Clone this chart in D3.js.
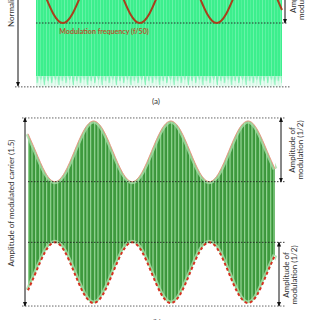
<!DOCTYPE html>
<html><head><meta charset="utf-8">
<script src="https://cdn.jsdelivr.net/npm/d3@7"></script>
<style>html,body{margin:0;padding:0;background:#fff;}svg{display:block;}</style>
</head><body>
<script>
// Time in modulation periods, and modulation envelope amplitude
const modTime = [0, 0.1, 0.225, 0.35, 0.475, 0.6, 0.725, 0.85, 0.975, 1.1, 1.225, 1.35, 1.475, 1.6, 1.725, 1.85, 1.975, 2.1, 2.225, 2.35, 2.475, 2.6, 2.725, 2.85, 2.975, 3.1, 3.2];
const modAmp  = [1.29, 1.0, 0.65, 0.5, 0.65, 1.0, 1.35, 1.5, 1.35, 1.0, 0.65, 0.5, 0.65, 1.0, 1.35, 1.5, 1.35, 1.0, 0.65, 0.5, 0.65, 1.0, 1.35, 1.5, 1.35, 1.0, 0.71];
// Reference levels
const topLevels = [0.5, -0.53];          // modulation minimum, baseline (panel a)
const carrierRange = [2.0, -0.36];       // carrier fill top / bottom (panel a)
const botLevels = [1.55, 0.5, -0.5, -1.55]; // dotted guide lines (panel b)
const labels = {
  yA: "Normalized amplitude",
  modA: ["Amplitude of", "modulation (1/2)"],
  freq: "Modulation frequency (f/50)",
  a: "(a)",
  yB: "Amplitude of modulated carrier (1.5)",
  b: "(b)"
};

const W = 320, H = 320;
const svg = d3.select("body").append("svg").attr("width", W).attr("height", H);
const defs = svg.append("defs");

function marker(id) {
  defs.append("marker").attr("id", id).attr("viewBox", "0 0 6 6").attr("refX", 5).attr("refY", 3)
    .attr("markerWidth", 5).attr("markerHeight", 5).attr("orient", "auto-start-reverse")
    .append("path").attr("d", "M0,0.5 L6,3 L0,5.5 Z").attr("fill", "#111");
}
marker("arr");

// patterns
const pA = defs.append("pattern").attr("id", "pa").attr("patternUnits", "userSpaceOnUse")
  .attr("width", 9).attr("height", 400);
pA.append("rect").attr("width", 9).attr("height", 400).attr("fill", "#3cef8d");
pA.append("rect").attr("x", 1).attr("width", 0.8).attr("height", 400).attr("fill", "#7ff5b8").attr("opacity", 0.8);
pA.append("rect").attr("x", 4.2).attr("width", 0.7).attr("height", 400).attr("fill", "#8af6c0").attr("opacity", 0.6);
pA.append("rect").attr("x", 7).attr("width", 0.6).attr("height", 400).attr("fill", "#6ff3ad").attr("opacity", 0.7);

const pS = defs.append("pattern").attr("id", "ps").attr("patternUnits", "userSpaceOnUse")
  .attr("width", 14.4).attr("height", 11).attr("y", 76);
pS.append("rect").attr("width", 14.4).attr("height", 11).attr("fill", "#e9fbf1");
[[0, 9], [3.6, 5], [7.2, 7], [10.8, 4]].forEach(([x0, h]) => {
  pS.append("path").attr("d", `M${x0},0 L${x0 + 2.6},0 L${x0 + 1.6},${h} L${x0 + 0.9},${h} Z`).attr("fill", "#53f09c");
  pS.append("path").attr("d", `M${x0 + 0.4},0 L${x0 + 2.4},0 L${x0 + 1.3},${11} Z`).attr("fill", "#9cf4c6").attr("opacity", 0.7);
});

const pB = defs.append("pattern").attr("id", "pb").attr("patternUnits", "userSpaceOnUse")
  .attr("width", 11).attr("height", 400);
pB.append("rect").attr("width", 11).attr("height", 400).attr("fill", "#47a447");
pB.append("rect").attr("x", 0.5).attr("width", 1.2).attr("height", 400).attr("fill", "#368f36");
pB.append("rect").attr("x", 2.2).attr("width", 0.9).attr("height", 400).attr("fill", "#a2dba2");
pB.append("rect").attr("x", 4.3).attr("width", 1.3).attr("height", 400).attr("fill", "#3a953a");
pB.append("rect").attr("x", 6.0).attr("width", 1.2).attr("height", 400).attr("fill", "#8ccf8c");
pB.append("rect").attr("x", 8.0).attr("width", 1.2).attr("height", 400).attr("fill", "#3a953a");
pB.append("rect").attr("x", 9.6).attr("width", 0.8).attr("height", 400).attr("fill", "#b3e2b3");

// ---------- Panel (a) ----------
const xA = d3.scaleLinear().domain([0, 3.2]).range([36, 282]);
const yA = d3.scaleLinear().domain([0.5, 1.5]).range([23, -39]);

svg.append("rect").attr("x", xA(0)).attr("width", xA(3.2) - xA(0))
  .attr("y", yA(carrierRange[0])).attr("height", yA(carrierRange[1]) - yA(carrierRange[0]))
  .attr("fill", "url(#pa)");
svg.append("rect").attr("x", xA(0)).attr("width", xA(3.2) - xA(0))
  .attr("y", yA(carrierRange[1])).attr("height", yA(topLevels[1]) - yA(carrierRange[1]))
  .attr("fill", "url(#ps)");

svg.append("line").attr("x1", 15).attr("x2", 290).attr("y1", yA(topLevels[1])).attr("y2", yA(topLevels[1]))
  .attr("stroke", "#555").attr("stroke-width", 1).attr("stroke-dasharray", "1.5,1.5");
svg.append("line").attr("x1", xA(0)).attr("x2", 287).attr("y1", yA(topLevels[0])).attr("y2", yA(topLevels[0]))
  .attr("stroke", "#222").attr("stroke-width", 0.9).attr("stroke-dasharray", "1.5,1.5");

svg.append("path").datum(modTime.map((t, i) => [t, modAmp[i]]))
  .attr("d", d3.line().x(d => xA(d[0])).y(d => yA(d[1])).curve(d3.curveNatural))
  .attr("fill", "none").attr("stroke", "#a8401c").attr("stroke-width", 2);

svg.append("line").attr("x1", 18).attr("x2", 18).attr("y1", -20).attr("y2", yA(topLevels[1]) - 1)
  .attr("stroke", "#111").attr("stroke-width", 1).attr("marker-end", "url(#arr)");
svg.append("text").attr("transform", `translate(14,27) rotate(-90)`).attr("text-anchor", "start")
  .attr("font-family", "Lato").attr("font-size", 8).attr("fill", "#333").text(labels.yA);

svg.append("line").attr("x1", 285).attr("x2", 285).attr("y1", yA(1.5)).attr("y2", yA(topLevels[0]))
  .attr("stroke", "#111").attr("stroke-width", 1).attr("marker-end", "url(#arr)").attr("marker-start", "url(#arr)");
svg.append("text").attr("transform", `translate(296,13) rotate(-90)`).attr("text-anchor", "start")
  .attr("font-family", "Lato").attr("font-size", 8).attr("fill", "#333").text(labels.modA[0]);
svg.append("text").attr("transform", `translate(304,20) rotate(-90)`).attr("text-anchor", "start")
  .attr("font-family", "Lato").attr("font-size", 8).attr("fill", "#333").text(labels.modA[1]);

svg.append("text").attr("x", 104).attr("y", 34).attr("text-anchor", "middle")
  .attr("font-family", "Lato").attr("font-weight", "bold").attr("font-size", 7.1).attr("fill", "#b4552d").text(labels.freq);
svg.append("text").attr("x", 156).attr("y", 104).attr("text-anchor", "middle")
  .attr("font-family", "Lato").attr("font-size", 8).attr("fill", "#333").text(labels.a);

// ---------- Panel (b) ----------
const xB = d3.scaleLinear().domain([0, 3.2]).range([28, 275]);
const yB = d3.scaleLinear().domain([-1.5, 1.5]).range([303, 121]);
const env = modTime.map((t, i) => ({ t, a: modAmp[i] }));

const area = d3.area().x(d => xB(d.t)).y0(d => yB(-d.a)).y1(d => yB(d.a)).curve(d3.curveNatural);
svg.append("path").datum(env).attr("d", area).attr("fill", "url(#pb)");

const upper = d3.line().x(d => xB(d.t)).y(d => yB(d.a)).curve(d3.curveNatural);
const lower = d3.line().x(d => xB(d.t)).y(d => yB(-d.a)).curve(d3.curveNatural);
svg.append("path").datum(env).attr("d", upper).attr("fill", "none").attr("stroke", "#a9dea9").attr("stroke-width", 5).attr("opacity", 0.8);
svg.append("path").datum(env).attr("d", lower).attr("fill", "none").attr("stroke", "#a9dea9").attr("stroke-width", 5).attr("opacity", 0.8);
// white outside the envelope
svg.append("path").datum(env).attr("d", d3.area().x(d => xB(d.t)).y0(112).y1(d => yB(d.a) - 0.3).curve(d3.curveNatural))
  .attr("fill", "#fff");
svg.append("path").datum(env).attr("d", d3.area().x(d => xB(d.t)).y0(312).y1(d => yB(-d.a) + 0.3).curve(d3.curveNatural))
  .attr("fill", "#fff");

svg.append("path").datum(env).attr("d", upper).attr("fill", "none").attr("stroke", "#ea8f7c").attr("stroke-width", 0.9);
svg.append("path").datum(env).attr("d", lower).attr("fill", "none").attr("stroke", "#d5301f").attr("stroke-width", 2)
  .attr("stroke-dasharray", "3,2.5");

botLevels.forEach((v, i) => {
  const outer = (i === 0 || i === 3);
  svg.append("line").attr("x1", outer ? 22 : xB(0)).attr("x2", 285).attr("y1", yB(v)).attr("y2", yB(v))
    .attr("stroke", outer ? "#555" : "#222").attr("stroke-width", 0.9).attr("stroke-dasharray", "1.5,1.5");
});

svg.append("line").attr("x1", 25).attr("x2", 25).attr("y1", yB(botLevels[3])).attr("y2", yB(botLevels[0]))
  .attr("stroke", "#111").attr("stroke-width", 1).attr("marker-end", "url(#arr)").attr("marker-start", "url(#arr)");
svg.append("text").attr("transform", `translate(14,203) rotate(-90)`).attr("text-anchor", "middle")
  .attr("font-family", "Lato").attr("font-size", 8).attr("fill", "#333").text(labels.yB);

[[botLevels[0], botLevels[1], 281, 150, 0], [botLevels[2], botLevels[3], 279, 275, -6]].forEach(([v1, v2, x, cy, dx]) => {
  svg.append("line").attr("x1", x).attr("x2", x).attr("y1", yB(v1)).attr("y2", yB(v2))
    .attr("stroke", "#111").attr("stroke-width", 1).attr("marker-end", "url(#arr)").attr("marker-start", "url(#arr)");
  svg.append("text").attr("transform", `translate(${295 + dx},${cy}) rotate(-90)`).attr("text-anchor", "middle")
    .attr("font-family", "Lato").attr("font-size", 8).attr("fill", "#333").text(labels.modA[0]);
  svg.append("text").attr("transform", `translate(${303 + dx},${cy}) rotate(-90)`).attr("text-anchor", "middle")
    .attr("font-family", "Lato").attr("font-size", 8).attr("fill", "#333").text(labels.modA[1]);
});

svg.append("text").attr("x", 157).attr("y", 325).attr("text-anchor", "middle")
  .attr("font-family", "Lato").attr("font-size", 8).attr("fill", "#333").text(labels.b);
</script>
</body></html>
